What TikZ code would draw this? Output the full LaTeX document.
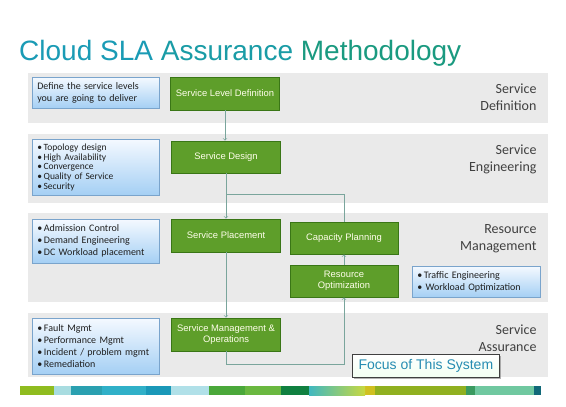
\documentclass[tikz,border=0pt]{standalone}
\usepackage{fontspec}
\setmainfont{Carlito}
\newfontfamily\arialfont{Liberation Sans}
\usetikzlibrary{positioning}
\usetikzlibrary{shadows}
\usetikzlibrary{calc}

\definecolor{bandgray}{RGB}{234,234,234}
\definecolor{boxgreen}{RGB}{94,158,42}
\definecolor{boxgreenline}{RGB}{58,118,22}
\definecolor{notetop}{RGB}{244,249,255}
\definecolor{notebottom}{RGB}{164,207,244}
\definecolor{noteline}{RGB}{122,164,204}
\definecolor{linkgray}{RGB}{122,165,156}
\definecolor{labelgray}{RGB}{64,64,64}
\definecolor{focusblue}{RGB}{38,140,178}
\definecolor{titleA}{RGB}{26,155,181}
\definecolor{titleB}{RGB}{26,156,166}
\definecolor{titleC}{RGB}{26,154,128}
% colour strip at the foot
\definecolor{stA}{RGB}{143,188,31}
\definecolor{stB}{RGB}{168,220,224}
\definecolor{stC}{RGB}{42,160,176}
\definecolor{stD}{RGB}{48,176,200}
\definecolor{stE}{RGB}{26,152,184}
\definecolor{stF}{RGB}{176,224,232}
\definecolor{stG}{RGB}{74,168,58}
\definecolor{stH}{RGB}{106,184,64}
\definecolor{stI}{RGB}{16,128,64}
\definecolor{stJ}{RGB}{64,184,192}
\definecolor{stK}{RGB}{200,216,64}
\definecolor{stL}{RGB}{208,192,32}
\definecolor{stM}{RGB}{144,176,32}
\definecolor{stN}{RGB}{58,154,96}
\definecolor{stO}{RGB}{112,200,160}
\definecolor{stP}{RGB}{16,104,120}

\tikzset{
  stage/.style={draw=boxgreenline, line width=0.8pt, fill=boxgreen, text=white!92!yellow,
    font=\arialfont\fontsize{9.4}{11.2}\selectfont, align=center,
    minimum width=109pt, minimum height=32pt, inner sep=2pt},
  note/.style={draw=noteline, line width=0.6pt, top color=notetop, bottom color=notebottom,
    text=black!88, font=\fontsize{10}{12}\selectfont, align=left, anchor=north west,
    inner xsep=5pt, inner ysep=2pt},
  tag/.style={font=\fontsize{14}{17}\selectfont, text=labelgray, align=right, anchor=east},
  link/.style={draw=linkgray, line width=0.7pt},
}

\begin{document}
\begin{tikzpicture}[x=1pt, y=-1pt]

  \useasboundingbox (0,0) rectangle (566,407);
  \fill[white] (0,0) rectangle (566,407);

  \def\bl{28};
  \def\br{548};

  % grey bands
  \foreach \y/\h in {73/50, 134/69, 213/89, 313/64} {
    \fill[bandgray] (\bl,\y) rectangle (\br,\y+\h);
  }

  \node[anchor=base west, inner sep=0, font=\arialfont\fontsize{28}{32}\selectfont] (title) at (19,60)
    {\textcolor{titleA}{Cloud SLA} \textcolor{titleB}{Assurance} \textcolor{titleC}{Methodology}};

  % band labels
  \foreach \y/\txt/\name in {97.5/{Service\\Definition}/lsd, 159.5/{Service\\Engineering}/lse,
                            238.5/{Resource\\Management}/lrm, 338.5/{Service\\Assurance}/lsa} {
    \node[tag] (\name) at (540,\y) {\txt};
  }

  % notes
  \node[note, text width=117pt, minimum height=31pt] (ndef) at (32,77)
    {Define the service levels\\you are going to deliver};
  \node[note, text width=117pt, minimum height=56pt, font=\fontsize{9.5}{9.8}\selectfont] (neng) at (32,139)
    {\textbullet\,Topology design\\ \textbullet\,High Availability\\ \textbullet\,Convergence\\
     \textbullet\,Quality of Service\\ \textbullet\,Security};
  \node[note, text width=117pt, minimum height=44pt] (nres) at (32,219)
    {\textbullet\,Admission Control\\ \textbullet\,Demand Engineering\\ \textbullet\,DC Workload placement};
  \node[note, text width=117pt, minimum height=56pt] (nass) at (32,318)
    {\textbullet\,Fault Mgmt\\ \textbullet\,Performance Mgmt\\ \textbullet\,Incident / problem mgmt\\
     \textbullet\,Remediation};
  \node[note, text width=118pt, minimum height=31pt] (nopt) at (412,266)
    {\textbullet\,Traffic Engineering\\ \textbullet\,\,Workload Optimization};

  % stages
  \node[stage, minimum height=33pt] (sld) at (225,93.5) {Service Level Definition};
  \node[stage] (sd)  at (226,157)   {Service Design};
  \node[stage, minimum height=33pt] (sp)  at (226,235.5) {Service Placement};
  \node[stage, minimum width=108pt] (cp)  at (344,238)   {Capacity Planning};
  \node[stage, minimum width=108pt] (ro)  at (344,281)   {Resource\\Optimization};
  \node[stage, minimum height=33pt] (smo) at (226,334.5) {Service Management \&\\Operations};

  \coordinate (jn) at (226,194);
  \coordinate (back) at (344,364);

  \draw[link,->] (sld.south) -- (sld.south |- sd.north);
  \draw[link,->] (sd) -- (sp);
  \draw[link] (cp.north) |- (jn);
  \draw[link,->] (sp) -- (smo);
  \draw[link,->] (smo.south) |- (back) -- (ro.south);
  \draw[link,->] (ro) -- (cp);

  \node[draw=black!75, line width=0.8pt, top color=white, bottom color=green!5!white,
        drop shadow={shadow xshift=1.2pt, shadow yshift=-1.2pt, opacity=.6},
        text=focusblue, font=\arialfont\fontsize{14}{16}\selectfont,
        minimum width=147pt, minimum height=23pt, anchor=north west] (focus) at (352,354)
    {Focus of This System};

  % colour strip
  \foreach \a/\b/\c in {20/54/stA, 54/71/stB, 71/102/stC, 102/146/stD, 146/171/stE,
                        171/209/stF, 209/245/stG, 245/281/stH, 281/309/stI, 365/375/stL,
                        375/466/stM, 466/475/stN, 475/534/stO, 534/541/stP} {
    \fill[\c] (\a,386) rectangle (\b,395);
  }
  \fill[left color=stJ, right color=stK] (309,386) rectangle (365,395);

\end{tikzpicture}
\end{document}
